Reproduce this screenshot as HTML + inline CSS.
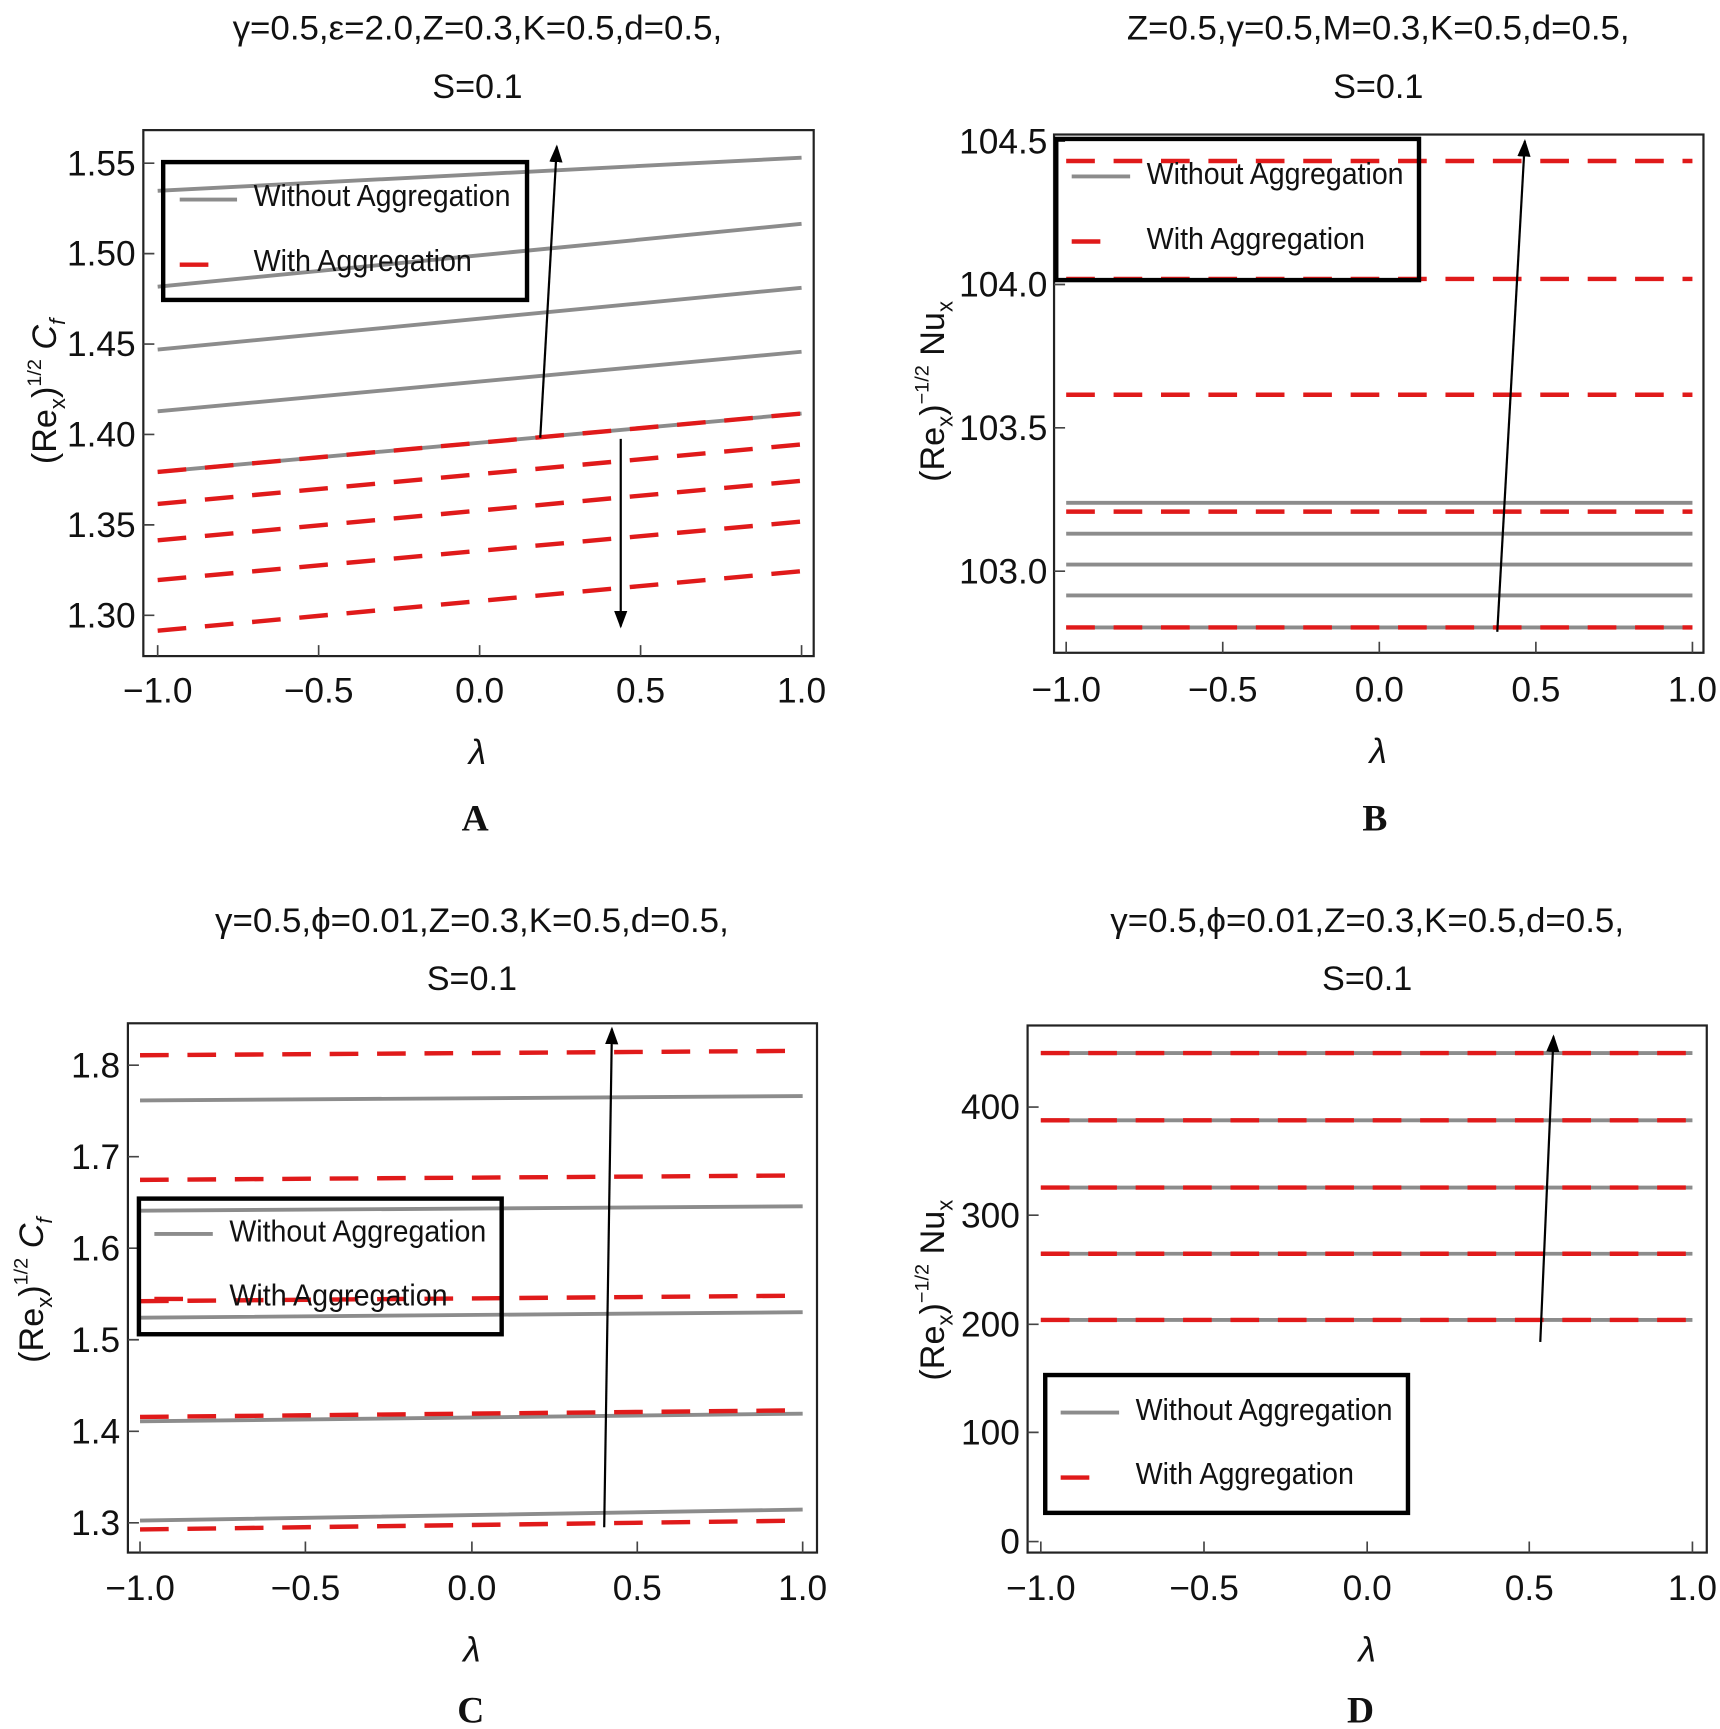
<!DOCTYPE html>
<html><head><meta charset="utf-8"><style>
html,body{margin:0;padding:0;background:#fff;}
svg{display:block;}
text{font-family:"Liberation Sans",sans-serif;fill:#111;}
.t{font-size:31px;}
.tk{font-size:32px;}
.lg{font-size:28px;}
.g{stroke:#8c8c8c;stroke-width:3.5;fill:none;}
.r{stroke:#e01a1a;stroke-width:4;fill:none;stroke-dasharray:26 17;}
.fr{fill:none;stroke:#222;stroke-width:2;}
.bx{fill:none;stroke:#000;stroke-width:4;}
.ar{stroke:#000;stroke-width:2;}
.tm{stroke:#444;stroke-width:1.5;}
.L{font-family:"Liberation Serif",serif;font-weight:bold;font-size:34px;}
</style></head><body>
<svg width="1720" height="1729" viewBox="0 0 1560 1568" preserveAspectRatio="none" xmlns="http://www.w3.org/2000/svg">
<defs><marker id="ah" markerWidth="20" markerHeight="20" refX="14" refY="6" orient="auto" markerUnits="userSpaceOnUse"><path d="M0,0 L16,6 L0,12 z" fill="#000"/></marker></defs>

<!-- Panel A -->
<text class="t" x="433" y="36" text-anchor="middle" textLength="444" lengthAdjust="spacingAndGlyphs">γ=0.5,ε=2.0,Z=0.3,K=0.5,d=0.5,</text>
<text class="t" x="433" y="89" text-anchor="middle">S=0.1</text>
<rect class="fr" x="130" y="118" width="608" height="477"/>
<g class="tm"><path d="M143,595v-10M289,595v-10M435,595v-10M581,595v-10M727,595v-10M130,148h10M130,230h10M130,312h10M130,394h10M130,476h10M130,558h10"/></g>
<g class="g"><path d="M143,173L727,143M143,260L727,203M143,317L727,261M143,373L727,319M143,428L727,375"/></g>
<g class="r"><path d="M143,428L727,375M143,457L727,403M143,490L727,436M143,526L727,473M143,572L727,518"/></g>
<line class="ar" x1="490" y1="397" x2="505" y2="133" marker-end="url(#ah)"/>
<line class="ar" x1="563" y1="398" x2="563" y2="568" marker-end="url(#ah)"/>
<rect class="bx" x="148" y="147" width="330" height="125"/>
<line class="g" x1="163" y1="181" x2="215" y2="181"/>
<text class="lg" x="230" y="187" textLength="233" lengthAdjust="spacingAndGlyphs">Without Aggregation</text>
<line class="r" x1="163" y1="240" x2="190" y2="240"/>
<text class="lg" x="230" y="246" textLength="198" lengthAdjust="spacingAndGlyphs">With Aggregation</text>
<g class="tk" text-anchor="end"><text x="123" y="159">1.55</text><text x="123" y="241">1.50</text><text x="123" y="323">1.45</text><text x="123" y="405">1.40</text><text x="123" y="487">1.35</text><text x="123" y="569">1.30</text></g>
<g class="tk" text-anchor="middle"><text x="143" y="637">−1.0</text><text x="289" y="637">−0.5</text><text x="435" y="637">0.0</text><text x="581" y="637">0.5</text><text x="727" y="637">1.0</text></g>
<text x="433" y="693" font-size="32" font-style="italic" text-anchor="middle">λ</text>
<text x="40" y="355" font-size="31" text-anchor="middle" transform="rotate(-90 40 355) translate(0,11)">(Re<tspan font-size="20" dy="8">x</tspan><tspan dy="-8">)</tspan><tspan font-size="18" dy="-14">1/2</tspan><tspan dy="14" font-style="italic"> C</tspan><tspan font-size="20" font-style="italic" dy="8">f</tspan></text>
<text class="L" x="431" y="753" text-anchor="middle">A</text>

<!-- Panel B -->
<text class="t" x="1250" y="36" text-anchor="middle" textLength="456" lengthAdjust="spacingAndGlyphs">Z=0.5,γ=0.5,M=0.3,K=0.5,d=0.5,</text>
<text class="t" x="1250" y="89" text-anchor="middle">S=0.1</text>
<rect class="fr" x="956" y="122" width="589" height="470"/>
<g class="tm"><path d="M967,592v-10M1109,592v-10M1251,592v-10M1393,592v-10M1535,592v-10M956,128h10M956,258h10M956,388h10M956,518h10"/></g>
<g class="g"><path d="M967,456H1535M967,484H1535M967,512H1535M967,540H1535M967,569H1535"/></g>
<g class="r"><path d="M967,146H1535M967,253H1535M967,358H1535M967,464H1535M967,569H1535"/></g>
<line class="ar" x1="1358" y1="573" x2="1383" y2="128" marker-end="url(#ah)"/>
<rect class="bx" x="958" y="126" width="329" height="128"/>
<line class="g" x1="972" y1="160" x2="1025" y2="160"/>
<text class="lg" x="1040" y="167" textLength="233" lengthAdjust="spacingAndGlyphs">Without Aggregation</text>
<line class="r" x1="972" y1="219" x2="999" y2="219"/>
<text class="lg" x="1040" y="226" textLength="198" lengthAdjust="spacingAndGlyphs">With Aggregation</text>
<g class="tk" text-anchor="end"><text x="950" y="139">104.5</text><text x="950" y="269">104.0</text><text x="950" y="399">103.5</text><text x="950" y="529">103.0</text></g>
<g class="tk" text-anchor="middle"><text x="967" y="636">−1.0</text><text x="1109" y="636">−0.5</text><text x="1251" y="636">0.0</text><text x="1393" y="636">0.5</text><text x="1535" y="636">1.0</text></g>
<text x="1250" y="692" font-size="32" font-style="italic" text-anchor="middle">λ</text>
<text x="845" y="355" font-size="31" text-anchor="middle" transform="rotate(-90 845 355) translate(0,11)">(Re<tspan font-size="20" dy="8">x</tspan><tspan dy="-8">)</tspan><tspan font-size="18" dy="-14">−1/2</tspan><tspan dy="14"> Nu</tspan><tspan font-size="20" dy="8">x</tspan></text>
<text class="L" x="1247" y="753" text-anchor="middle">B</text>

<!-- Panel C -->
<text class="t" x="428" y="845" text-anchor="middle" textLength="466" lengthAdjust="spacingAndGlyphs">γ=0.5,ϕ=0.01,Z=0.3,K=0.5,d=0.5,</text>
<text class="t" x="428" y="898" text-anchor="middle">S=0.1</text>
<rect class="fr" x="116" y="928" width="625" height="480"/>
<g class="tm"><path d="M127,1408v-10M277,1408v-10M428,1408v-10M578,1408v-10M728,1408v-10M116,966h10M116,1049h10M116,1132h10M116,1215h10M116,1298h10M116,1381h10"/></g>
<g class="g"><path d="M127,998L728,994M127,1098L728,1094M127,1195L728,1190M127,1289L728,1282M127,1379L728,1369"/></g>
<g class="r"><path d="M127,957L728,953M127,1070L728,1066M127,1180L728,1175M127,1285L728,1279M127,1387L728,1379"/></g>
<line class="ar" x1="548" y1="1385" x2="555" y2="933" marker-end="url(#ah)"/>
<rect class="bx" x="126" y="1087" width="329" height="123"/>
<line class="g" x1="140" y1="1119" x2="193" y2="1119"/>
<text class="lg" x="208" y="1126" textLength="233" lengthAdjust="spacingAndGlyphs">Without Aggregation</text>
<line class="r" x1="140" y1="1178" x2="167" y2="1178"/>
<text class="lg" x="208" y="1184" textLength="198" lengthAdjust="spacingAndGlyphs">With Aggregation</text>
<g class="tk" text-anchor="end"><text x="109" y="977">1.8</text><text x="109" y="1060">1.7</text><text x="109" y="1143">1.6</text><text x="109" y="1226">1.5</text><text x="109" y="1309">1.4</text><text x="109" y="1392">1.3</text></g>
<g class="tk" text-anchor="middle"><text x="127" y="1451">−1.0</text><text x="277" y="1451">−0.5</text><text x="428" y="1451">0.0</text><text x="578" y="1451">0.5</text><text x="728" y="1451">1.0</text></g>
<text x="428" y="1507" font-size="32" font-style="italic" text-anchor="middle">λ</text>
<text x="28" y="1170" font-size="31" text-anchor="middle" transform="rotate(-90 28 1170) translate(0,11)">(Re<tspan font-size="20" dy="8">x</tspan><tspan dy="-8">)</tspan><tspan font-size="18" dy="-14">1/2</tspan><tspan dy="14" font-style="italic"> C</tspan><tspan font-size="20" font-style="italic" dy="8">f</tspan></text>
<text class="L" x="427" y="1562" text-anchor="middle">C</text>

<!-- Panel D -->
<text class="t" x="1240" y="845" text-anchor="middle" textLength="466" lengthAdjust="spacingAndGlyphs">γ=0.5,ϕ=0.01,Z=0.3,K=0.5,d=0.5,</text>
<text class="t" x="1240" y="898" text-anchor="middle">S=0.1</text>
<rect class="fr" x="932" y="930" width="616" height="478"/>
<g class="tm"><path d="M944,1408v-10M1092,1408v-10M1240,1408v-10M1387,1408v-10M1535,1408v-10M932,1004h10M932,1102h10M932,1201h10M932,1299h10M932,1398h10"/></g>
<g class="g"><path d="M944,955H1535M944,1016H1535M944,1077H1535M944,1137H1535M944,1197H1535"/></g>
<g class="r"><path d="M944,955H1535M944,1016H1535M944,1077H1535M944,1137H1535M944,1197H1535"/></g>
<line class="ar" x1="1397" y1="1217" x2="1409" y2="940" marker-end="url(#ah)"/>
<rect class="bx" x="948" y="1247" width="329" height="125"/>
<line class="g" x1="962" y1="1281" x2="1015" y2="1281"/>
<text class="lg" x="1030" y="1288" textLength="233" lengthAdjust="spacingAndGlyphs">Without Aggregation</text>
<line class="r" x1="962" y1="1340" x2="989" y2="1340"/>
<text class="lg" x="1030" y="1346" textLength="198" lengthAdjust="spacingAndGlyphs">With Aggregation</text>
<g class="tk" text-anchor="end"><text x="925" y="1015">400</text><text x="925" y="1113">300</text><text x="925" y="1212">200</text><text x="925" y="1310">100</text><text x="925" y="1409">0</text></g>
<g class="tk" text-anchor="middle"><text x="944" y="1451">−1.0</text><text x="1092" y="1451">−0.5</text><text x="1240" y="1451">0.0</text><text x="1387" y="1451">0.5</text><text x="1535" y="1451">1.0</text></g>
<text x="1240" y="1507" font-size="32" font-style="italic" text-anchor="middle">λ</text>
<text x="845" y="1170" font-size="31" text-anchor="middle" transform="rotate(-90 845 1170) translate(0,11)">(Re<tspan font-size="20" dy="8">x</tspan><tspan dy="-8">)</tspan><tspan font-size="18" dy="-14">−1/2</tspan><tspan dy="14"> Nu</tspan><tspan font-size="20" dy="8">x</tspan></text>
<text class="L" x="1234" y="1562" text-anchor="middle">D</text>
</svg>
</body></html>
